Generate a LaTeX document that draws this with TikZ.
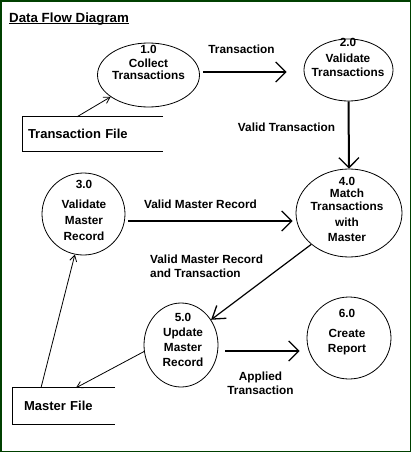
\documentclass[tikz,border=0pt]{standalone}
\usepackage{fontspec}
\setmainfont{Liberation Sans}
\usetikzlibrary{shapes.geometric,arrows.meta}
\definecolor{framegreen}{RGB}{0,64,0}
\begin{document}
\begin{tikzpicture}[x=1pt,y=1pt,
	proc/.style={ellipse,draw,line width=0.8pt,inner sep=0pt},
	store/.style={inner ysep=0pt,align=left,font=\bfseries\fontsize{13}{15}\selectfont},
	lbl/.style={inner sep=0pt,align=center,font=\bfseries\fontsize{11.8}{15}\selectfont},
	bigflow/.style={line width=2pt,-{Straight Barb[length=10pt,width=20pt,line width=1.3pt]}},
	smallflow/.style={line width=0.8pt,-{Straight Barb[length=6pt,width=7pt]}}]
	\useasboundingbox (0,0) rectangle (413,-453);
	\draw[framegreen,line width=1.5pt] (1,-1) rectangle (410.5,-451.5);
	\node[anchor=base west,inner sep=0pt,font=\bfseries\fontsize{13.3}{15}\selectfont] (title) at (9,-22) {Data Flow Diagram};
	\draw[line width=1.2pt] ([yshift=-1.6]title.base west) -- ([yshift=-1.6]title.base east);
	% processes
	\node[proc,minimum width=102pt,minimum height=64pt] (p1) at (148.5,-75) {};
	\node[proc,minimum width=89pt,minimum height=62pt] (p2) at (348.5,-70) {};
	\node[proc,minimum width=83pt,minimum height=82pt] (p3) at (83.5,-214) {};
	\node[proc,minimum width=106pt,minimum height=88pt] (p4) at (349,-213) {};
	\node[proc,minimum width=74pt,minimum height=84pt] (p5) at (181,-345) {};
	\node[proc,minimum width=84pt,minimum height=82pt] (p6) at (349,-338) {};
	\node[lbl] (t1) at (148.5,-62) {1.0\\[-1pt]Collect\\[-3pt]Transactions};
	\node[lbl] (t2) at (348,-57) {2.0\\[1pt]Validate\\[-1pt]Transactions};
	\node[lbl] (t3) at (84,-210) {3.0\\[5pt]Validate\\[1pt]Master\\[1pt]Record};
	\node[lbl] (t4) at (347,-209) {4.0\\[-3pt]Match\\[-2pt]Transactions\\[1pt]with\\Master};
	\node[lbl] (t5) at (183,-339.5) {5.0\\Update\\Master\\Record};
	\node[lbl] (t6) at (347,-332.5) {6.0\\[5pt]Create\\Report};
	% data stores
	\node[store,minimum width=140pt,minimum height=34pt,text width=130pt,inner xsep=5pt] (tf) at (93,-134) {Transaction File};
	\draw[line width=0.8pt] (tf.north east) -| (tf.south west) -- (tf.south east);
	\node[store,minimum width=102pt,minimum height=36pt,text width=80pt,inner xsep=11pt] (mf) at (64,-406) {Master File};
	\draw[line width=0.8pt] (mf.north east) -| (mf.south west) -- (mf.south east);
	% flows
	\draw[bigflow,shorten <=3.5pt,shorten >=17pt] ([yshift=3]p1.east) -- ([yshift=-2]p2.west);
	\node[lbl] (l1) at (241.5,-49) {Transaction};
	\draw[bigflow] (p2.south) -- (p4.north);
	\node[lbl] (l2) at (286.5,-127) {Valid Transaction};
	\draw[bigflow,shorten <=3pt,shorten >=3pt] ([yshift=-7]p3.east) -- ([yshift=-8]p4.west);
	\node[lbl] (l3) at (200.5,-204) {Valid Master Record};
	\draw[line width=1.2pt,-{Straight Barb[length=12pt,width=16pt,line width=1.3pt]}] (p4.south west) -- (p5.40);
	\node[lbl,anchor=west,align=left] (l4) at (150,-266) {Valid Master Record\\[-1pt]and Transaction};
	\draw[bigflow,shorten <=7pt,shorten >=7pt] ([yshift=-6]p5.east) -- ([yshift=-13]p6.west);
	\node[lbl] (l5) at (260.5,-383) {Applied\\[-1pt]Transaction};
	\draw[smallflow] ([xshift=-16]tf.north) -- (p1.210);
	\draw[smallflow] ([xshift=-23]mf.north) -- (p3.258);
	\draw[smallflow] (p5.190) -- ([xshift=12]mf.north);
\end{tikzpicture}
\end{document}
